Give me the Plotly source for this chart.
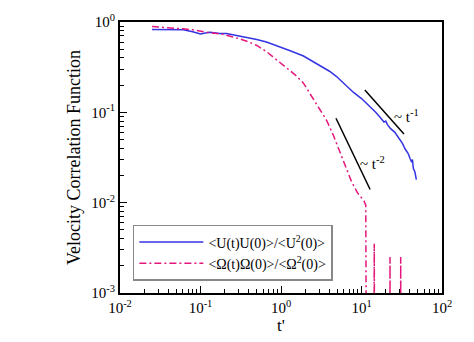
import plotly.graph_objects as go

# ---- data ----
u_t = [0.025, 0.035, 0.05, 0.061, 0.08, 0.1, 0.115, 0.131, 0.155, 0.174, 0.21, 0.26, 0.31,
       0.4, 0.5, 0.66, 0.8, 1.0, 1.3, 1.9, 2.5, 3.3, 4.0, 4.9, 6.0, 7.9, 10, 12.8, 15, 17,
       19, 20, 21, 23, 26, 29, 32, 35, 38, 40, 42, 43, 44, 46, 47, 48]
u_y = [0.825, 0.82, 0.82, 0.82, 0.78, 0.735, 0.755, 0.77, 0.755, 0.745, 0.745, 0.72, 0.70,
       0.67, 0.64, 0.60, 0.565, 0.525, 0.48, 0.42, 0.365, 0.316, 0.285, 0.249, 0.21, 0.167,
       0.142, 0.116, 0.10, 0.088, 0.078, 0.08, 0.073, 0.066, 0.06, 0.052, 0.046, 0.039,
       0.035, 0.031, 0.028, 0.03, 0.024, 0.022, 0.02, 0.018]

w_t = [0.025, 0.035, 0.05, 0.061, 0.08, 0.1, 0.12, 0.15, 0.19, 0.24, 0.31, 0.4, 0.5, 0.66,
       0.8, 1.0, 1.17, 1.5, 1.89, 2.5, 3.0, 3.7, 4.5, 5.2, 6.0, 7.0, 7.5, 8.9, 10.0, 10.7,
       11.3, 11.45, 11.6,
       None, 14.2, 14.4, 14.6,
       None, 22.4, 22.6, 22.8,
       None, 30.5, 30.7, 30.9]
w_y = [0.89, 0.875, 0.86, 0.84, 0.82, 0.80, 0.77, 0.75, 0.73, 0.69, 0.65, 0.6, 0.55, 0.47,
       0.41, 0.35, 0.316, 0.26, 0.212, 0.142, 0.11, 0.081, 0.055, 0.04, 0.029, 0.02, 0.0172,
       0.0129, 0.0115, 0.0105, 0.0094, 0.0002, 0.00001,
       None, 0.00001, 0.0035, 0.00001,
       None, 0.00001, 0.0025, 0.00001,
       None, 0.00001, 0.0025, 0.00001]

# power-law guide lines
g1_t = [11.0, 33.7]
g1_y = [0.177, 0.0576]
g2_t = [4.82, 12.8]
g2_y = [0.086, 0.014]

x_ticks = [0.01, 0.1, 1, 10, 100]
x_labels = ["10<sup>-2</sup>", "10<sup>-1</sup>", "10<sup>0</sup>", "10<sup>1</sup>", "10<sup>2</sup>"]
y_ticks = [0.001, 0.01, 0.1, 1]
y_labels = ["10<sup>-3</sup>", "10<sup>-2</sup>", "10<sup>-1</sup>", "10<sup>0</sup>"]

FONT = "Liberation Serif"
BLUE = "#3434e4"
PINK = "#e4177c"

fig = go.Figure()
fig.add_trace(go.Scatter(x=u_t, y=u_y, mode="lines", name="&lt;U(t)U(0)&gt;/&lt;U<sup>2</sup>(0)&gt;",
                         line=dict(color=BLUE, width=1.5)))
fig.add_trace(go.Scatter(x=w_t, y=w_y, mode="lines", name="&lt;Ω(t)Ω(0)&gt;/&lt;Ω<sup>2</sup>(0)&gt;",
                         connectgaps=False,
                         line=dict(color=PINK, width=1.5, dash="7px,3px,2px,3px")))
fig.add_trace(go.Scatter(x=g1_t, y=g1_y, mode="lines", showlegend=False,
                         line=dict(color="black", width=1.5)))
fig.add_trace(go.Scatter(x=g2_t, y=g2_y, mode="lines", showlegend=False,
                         line=dict(color="black", width=1.5)))

fig.add_annotation(x=1.56, y=-1.04, xref="x", yref="y", text="~ t<sup>-1</sup>",
                   showarrow=False, font=dict(family=FONT, size=15, color="black"))
fig.add_annotation(x=1.135, y=-1.56, xref="x", yref="y", text="~ t<sup>-2</sup>",
                   showarrow=False, font=dict(family=FONT, size=15, color="black"))

minor_x = [k * 10.0 ** e for e in range(-2, 2) for k in range(2, 10)]
minor_y = [k * 10.0 ** e for e in range(-3, 0) for k in range(2, 10)]

axis_common = dict(type="log", showgrid=False, zeroline=False, showline=True,
                   linecolor="black", linewidth=2, mirror=True,
                   ticks="inside", ticklen=7, tickwidth=1, tickcolor="black",
                   tickfont=dict(family=FONT, size=15, color="black"))

fig.update_layout(
    width=474, height=342,
    margin=dict(l=120, r=32, t=12, b=42),
    paper_bgcolor="white", plot_bgcolor="white",
    font=dict(family=FONT, color="black"),
    xaxis=dict(range=[-2, 2], tickvals=x_ticks, ticktext=x_labels,
               minor=dict(tickvals=minor_x, ticks="inside", ticklen=4, tickcolor="black"),
               title=dict(text="t'", font=dict(family=FONT, size=17), standoff=2),
               **axis_common),
    yaxis=dict(range=[-3, 0], tickvals=y_ticks, ticktext=y_labels,
               minor=dict(tickvals=minor_y, ticks="inside", ticklen=4, tickcolor="black"),
               title=dict(text="Velocity Correlation Function", font=dict(family=FONT, size=18),
                          standoff=6),
               **axis_common),
    legend=dict(x=0.04, y=0.251, xanchor="left", yanchor="top",
                bgcolor="white", bordercolor="#888888", borderwidth=1.5,
                font=dict(family=FONT, size=14, color="black"),
                itemwidth=64, tracegroupgap=0),
    showlegend=True,
)

fig.write_html("out.html")
